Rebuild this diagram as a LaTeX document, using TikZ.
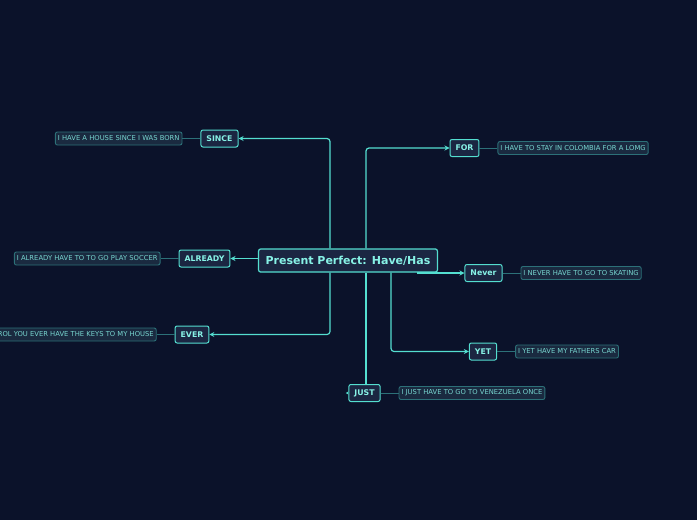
\documentclass[tikz,border=0pt]{standalone}
\usepackage{fontspec}
\setmainfont{DejaVu Sans}
\usetikzlibrary{arrows.meta, positioning}
\definecolor{bgnavy}{RGB}{11,18,42}
\definecolor{boxfill}{RGB}{27,38,66}
\definecolor{cyanline}{RGB}{84,222,208}
\definecolor{cyantext}{RGB}{135,242,230}
\definecolor{leaffill}{RGB}{26,42,64}
\definecolor{leafline}{RGB}{44,112,120}
\definecolor{leaftext}{RGB}{120,214,208}
\tikzstyle{block} = [rectangle, rounded corners=2pt, inner ysep=0pt]
\tikzstyle{central} = [draw=cyanline, fill=boxfill, block, line width=1.2pt, minimum height=23pt, inner xsep=7pt, text=cyantext, font=\fontsize{11}{13}\selectfont\bfseries]
\tikzstyle{topic} = [draw=cyanline, fill=boxfill, block, line width=1pt, minimum height=17pt, inner xsep=5.5pt, text=cyantext, font=\fontsize{7.8}{9}\selectfont\bfseries]
\tikzstyle{leaf} = [draw=leafline, fill=leaffill, block, line width=0.9pt, minimum height=13pt, inner xsep=2.5pt, text=leaftext, font=\fontsize{6.8}{8}\selectfont]
\tikzstyle{link} = [-{Stealth[length=5pt, width=5pt]}, cyanline, line width=1.2pt, rounded corners=3pt]
\tikzstyle{twig} = [leafline, line width=1pt]

\begin{document}
\begin{tikzpicture}[x=1pt, y=-1pt, node distance=18pt]
    \useasboundingbox (0,0) rectangle (697,520);
    \fill [bgnavy] (0,0) rectangle (697,520);
    \clip (0,0) rectangle (697,520);

    % Central topic.
    \node (central) [central] at (348,260.5) {Present Perfect: Have/Has};

    % Topics.
    \foreach \name/\x/\y/\txt in {since/219.5/138.5/SINCE, already/204.5/258.5/ALREADY, ever/192/334.5/EVER,
        for/464.5/148/FOR, never/483.5/273/Never, yet/483/351.5/YET, just/364.5/393/JUST} {
        \node (\name) [topic] at (\x,\y) {\txt};
    }

    % Leaves.
    \foreach \name/\side/\txt in {since/left/I HAVE A HOUSE SINCE I WAS BORN,
        already/left/I ALREADY HAVE TO TO GO PLAY SOCCER,
        ever/left/CAROL YOU EVER HAVE THE KEYS TO MY HOUSE,
        for/right/I HAVE TO STAY IN COLOMBIA FOR A LOMG,
        never/right/I NEVER HAVE TO GO TO SKATING,
        yet/right/I YET HAVE MY FATHERS CAR,
        just/right/I JUST HAVE TO GO TO VENEZUELA ONCE} {
        \node (\name leaf) [leaf, \side=of \name] {\txt};
        \draw [twig] (\name) -- (\name leaf);
    }

    % Trunks.
    \coordinate (trunkL) at (330,0);
    \coordinate (trunkR) at (366,0);
    \coordinate (trunkY) at (391,0);
    \coordinate (neverstart) at (417,273);

    % Arrows.
    \draw [link] (central.north -| trunkL) |- (since);
    \draw [link] (central.south -| trunkL) |- (ever);
    \draw [link] (central.west |- already) -- (already);
    \draw [link] (central.north -| trunkR) |- (for);
    \draw [link] (neverstart) -- (never);
    \draw [link] (central.south -| trunkY) |- (yet);
    \draw [cyanline, line width=1.2pt] (central.south -| trunkR) -- (just.north -| trunkR);
    \draw [-{Stealth[length=2.5pt, width=3pt]}, cyanline, line width=0.6pt] (just.west) -- ++(-2.5pt,0);
\end{tikzpicture}
\end{document}
